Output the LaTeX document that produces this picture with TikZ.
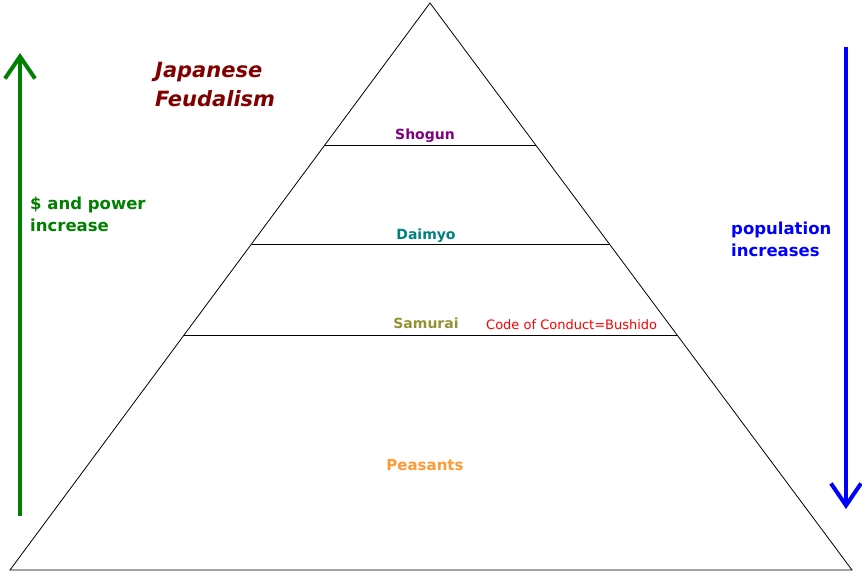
\documentclass[tikz,border=0pt]{standalone}
\usepackage{fontspec}
\setmainfont{DejaVu Sans}
\usepackage{tikz}
\usetikzlibrary{arrows.meta, positioning, calc}
\usepackage{xcolor}

\definecolor{feudred}{HTML}{800000}
\definecolor{powergreen}{HTML}{008000}
\definecolor{popblue}{HTML}{0000FF}
\definecolor{shogunc}{HTML}{800080}
\definecolor{daimyoc}{HTML}{008080}
\definecolor{samuraic}{HTML}{929234}
\definecolor{peasantc}{HTML}{FF9933}
\definecolor{codered}{HTML}{FF0000}

\begin{document}
\begin{tikzpicture}[x=1pt, y=-1pt,
    rank/.style={font=\bfseries\fontsize{14}{16}\selectfont, anchor=base, inner sep=0pt},
    sidetext/.style={font=\bfseries\fontsize{16.5}{20}\selectfont, anchor=base west, inner sep=0pt},
    titletext/.style={font=\bfseries\itshape\fontsize{21}{24}\selectfont, anchor=base west, inner sep=0pt, text=feudred},
    bigarrow/.style={line width=4pt, -{Straight Barb[length=22pt, width=30pt]}}]
        \useasboundingbox (0,0) rectangle (862,583);

        % Draw the pyramid
        \coordinate (apex) at (430,3);
        \coordinate (baseL) at (10,570);
        \coordinate (baseR) at (852,570);
        \draw[line width=0.8pt] (apex) -- (baseL) -- (baseR) -- cycle;

        % Draw the level lines
        \foreach \t in {0.2504, 0.4250, 0.5855}
            \draw[line width=0.8pt] ($(apex)!\t!(baseL)$) -- ($(apex)!\t!(baseR)$);

        % Level labels
        \node[rank, text=shogunc] (shogun) at (425,140) {Shogun};
        \node[rank, text=daimyoc] (daimyo) at (426,239) {Daimyo};
        \node[rank, text=samuraic] (samurai) at (426,328) {Samurai};
        \node[font=\fontsize{13}{15}\selectfont, anchor=base west, inner sep=0pt, text=codered] (bushido) at (486,329) {Code of Conduct=Bushido};
        \node[rank, font=\bfseries\fontsize{15}{17}\selectfont, text=peasantc] (peasants) at (425,470) {Peasants};

        % Title
        \node[titletext] (title1) at (155,78) {Japanese};
        \node[titletext] (title2) at (155,107) {Feudalism};

        % Left arrow and label
        \coordinate (powerlow) at (20,516);
        \coordinate (powerhigh) at (20,53);
        \draw[bigarrow, powergreen] (powerlow) -- (powerhigh);
        \node[sidetext, text=powergreen] (power1) at (30,209) {\$ and power};
        \node[sidetext, text=powergreen] (power2) at (30,231) {increase};

        % Right arrow and label
        \coordinate (poplow) at (846,47);
        \coordinate (pophigh) at (846,509);
        \draw[bigarrow, popblue] (poplow) -- (pophigh);
        \node[sidetext, text=popblue] (pop1) at (731,234) {population};
        \node[sidetext, text=popblue] (pop2) at (731,256) {increases};
    \end{tikzpicture}
\end{document}
